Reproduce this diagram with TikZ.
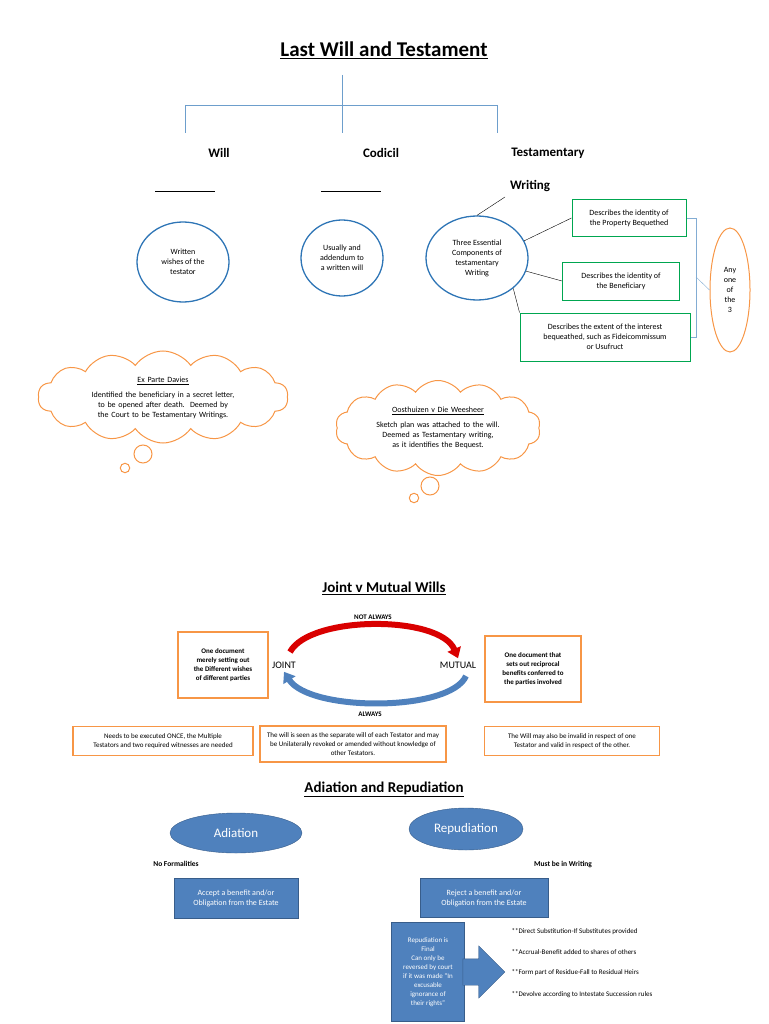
\documentclass[tikz,border=0pt]{standalone}
\usepackage{fontspec}
\setmainfont{Carlito}
\usetikzlibrary{shapes.symbols,shapes.arrows,arrows.meta,shapes.geometric}
\definecolor{tblue}{HTML}{2E75B6}
\definecolor{tgreen}{HTML}{00A650}
\definecolor{torange}{HTML}{F79646}
\definecolor{fblue}{HTML}{4F81BD}
\definecolor{dblue}{HTML}{385D8A}
\tikzset{
 small/.style={font=\fontsize{8}{10}\selectfont,align=center},
 bel/.style={draw=tblue,line width=1.3pt,ellipse,small},
 gbox/.style={draw=tgreen,line width=1pt,small,inner sep=3pt},
 obox/.style={draw=torange,line width=1.2pt,small,inner sep=3pt,font=\fontsize{7}{9}\selectfont},
 fbox/.style={fill=fblue,draw=dblue,text=white,small,inner sep=3pt},
 ttl/.style={font=\bfseries\fontsize{15}{18}\selectfont},
 cld/.style={cloud,cloud puffs=14,cloud puff arc=110,draw=torange,line width=1pt,aspect=2.6},
}
\begin{document}
\hyphenpenalty=10000
\begin{tikzpicture}[x=1pt,y=-1pt]
\useasboundingbox (0,0) rectangle (768,1024);
% title
\node[font=\bfseries\fontsize{21}{24}\selectfont] (title) at (384,50) {\underline{Last Will and Testament}};
\coordinate (t0) at (342,75); \coordinate (t1) at (342,105);
\coordinate (l1) at (185,105); \coordinate (r1) at (497,105);
\coordinate (l2) at (185,133); \coordinate (m2) at (342,133); \coordinate (r2) at (497,133);
\draw[tblue!70] (t0)--(t1) (l1)--(r1) (l1)--(l2) (t1)--(m2) (r1)--(r2);
\node[font=\bfseries\fontsize{13}{15}\selectfont] (will) at (219,153) {Will};
\node[font=\bfseries\fontsize{13}{15}\selectfont] (cod) at (381,153) {Codicil};
\node[font=\bfseries\fontsize{13}{15}\selectfont] (test) at (548,153) {Testamentary};
\node[font=\bfseries\fontsize{13}{15}\selectfont] (wri) at (530,186) {Writing};
\coordinate (u1) at (155,191); \coordinate (u2) at (215,191);
\coordinate (u3) at (321,191); \coordinate (u4) at (381,191);
\draw (u1)--(u2) (u3)--(u4);
\node[bel,minimum width=92,minimum height=80] (e1) at (183,262) {Written\\wishes of the\\testator};
\node[bel,minimum width=82,minimum height=76] (e2) at (342,258) {Usually and\\addendum to\\a written will};
\node[bel,minimum width=102,minimum height=84] (e3) at (477,258) {Three Essential\\Components of\\testamentary\\Writing};
\node[gbox,minimum width=114,minimum height=37] (g1) at (629,218) {Describes the identity of\\the Property Bequethed};
\node[gbox,minimum width=117,minimum height=38] (g2) at (621,281) {Describes the identity of\\the Beneficiary};
\node[gbox,minimum width=170,minimum height=48] (g3) at (605,337) {Describes the extent of the interest\\bequeathed, such as Fideicommissum\\or Usufruct};
\coordinate (w1) at (505,197);
\draw (w1)--(e3.north);
\draw (e3.20)--(g1.west) (e3.-15)--(g2.west) (e3.-40)--(g3.north west);
\node[draw=torange,line width=1pt,ellipse,minimum width=40,minimum height=124,small] (any) at (730,290) {Any\\one\\of\\the\\3};
\coordinate (b1) at (696,218); \coordinate (b2) at (696,337); \coordinate (bm) at (696,277);
\draw[tblue!60] (g1.east)--(b1)--(b2)--(g3.east);
\draw[tblue!60] (bm)--(any.west);
% clouds
\node[cld,minimum width=250,minimum height=92] (c1) at (163,397) {};
\node[small,text width=185] (c1t) at (163,398) {\underline{Ex Parte Davies}\\[5pt]Identified the beneficiary in a secret letter, to be opened after death.\ \ Deemed by the Court to be Testamentary Writings.};
\node[draw=torange,line width=1pt,circle,minimum size=18] (c1a) at (143,454) {};
\node[draw=torange,line width=1pt,circle,minimum size=9] (c1b) at (125,468) {};
\node[cld,minimum width=205,minimum height=95] (c2) at (438,428) {};
\node[small,text width=160] (c2t) at (438,428) {\underline{Oosthuizen v Die Weesheer}\\[5pt]Sketch plan was attached to the will.\\Deemed as Testamentary writing, as it identifies the Bequest.};
\node[draw=torange,line width=1pt,circle,minimum size=18] (c2a) at (430,486) {};
\node[draw=torange,line width=1pt,circle,minimum size=9] (c2b) at (414,498) {};
% Joint v mutual
\node[ttl] (jt) at (384,588) {\underline{Joint v Mutual Wills}};
\node[small,font=\bfseries\fontsize{7}{9}\selectfont] (na) at (373,617) {NOT ALWAYS};
\node[font=\fontsize{10}{12}\selectfont] (joint) at (284,665) {JOINT};
\node[font=\fontsize{10}{12}\selectfont] (mut) at (458,665) {MUTUAL};
\node[small,font=\bfseries\fontsize{7}{9}\selectfont] (al) at (370,714) {ALWAYS};
\coordinate (ja) at (290,652); \coordinate (mb) at (466,676);
\draw[red!85!black,line width=6pt,-{Triangle[width=14pt,length=10pt]}] (ja) .. controls (310,615) and (440,615) .. (mut.north);
\draw[fblue,line width=6pt,-{Triangle[width=14pt,length=10pt]}] (mb) .. controls (450,712) and (310,712) .. (joint.south);
\node[obox,minimum width=90,minimum height=66,font=\bfseries\fontsize{7}{9}\selectfont] (o1) at (223,665) {One document\\merely setting out\\the Different wishes\\of different parties};
\node[obox,minimum width=96,minimum height=66,font=\bfseries\fontsize{7}{9}\selectfont] (o2) at (533,669) {One document that\\sets out reciprocal\\benefits conferred to\\the parties involved};
\node[obox,minimum width=180,minimum height=29] (o3) at (163,741) {Needs to be executed ONCE, the Multiple\\Testators and two required witnesses are needed};
\node[obox,minimum width=186,minimum height=36] (o4) at (353,744) {The will is seen as the separate will of each Testator and may\\be Unilaterally revoked or amended without knowledge of\\other Testators.};
\node[obox,minimum width=175,minimum height=29] (o5) at (572,741) {The Will may also be invalid in respect of one\\Testator and valid in respect of the other.};
% Adiation
\node[ttl] (at) at (384,789) {\underline{Adiation and Repudiation}};
\node[ellipse,fill=fblue,draw=dblue,text=white,minimum width=132,minimum height=40,font=\fontsize{13}{15}\selectfont] (ad) at (236,833) {Adiation};
\node[ellipse,fill=fblue,draw=dblue,text=white,minimum width=114,minimum height=42,font=\fontsize{13}{15}\selectfont] (rep) at (466,829) {Repudiation};
\node[small,font=\bfseries\fontsize{7.5}{9}\selectfont] (nf) at (176,864) {No Formalities};
\node[small,font=\bfseries\fontsize{7.5}{9}\selectfont] (mw) at (563,864) {Must be in Writing};
\node[fbox,minimum width=124,minimum height=40] (ab) at (236,898) {Accept a benefit and/or\\Obligation from the Estate};
\node[fbox,minimum width=128,minimum height=39] (rb) at (484,898) {Reject a benefit and/or\\Obligation from the Estate};
\node[fbox,minimum width=73,minimum height=99,font=\fontsize{7}{9}\selectfont] (fin) at (428,972) {Repudiation is\\Final\\Can only be\\reversed by court\\if it was made ``In\\excusable\\ignorance of\\their rights''};
\node[single arrow,fill=fblue,draw=dblue,minimum height=42,minimum width=52,inner sep=0pt,text width=0pt,text height=26pt,single arrow head extend=13pt,anchor=west] (arr) at ([xshift=-2pt]fin.east) {};
\node[anchor=west,font=\fontsize{7}{9}\selectfont] (s1) at (508,932) {**Direct Substitution-If Substitutes provided};
\node[anchor=west,font=\fontsize{7}{9}\selectfont] (s2) at (508,952) {**Accrual-Benefit added to shares of others};
\node[anchor=west,font=\fontsize{7}{9}\selectfont] (s3) at (508,973) {**Form part of Residue-Fall to Residual Heirs};
\node[anchor=west,font=\fontsize{7}{9}\selectfont] (s4) at (508,995) {**Devolve according to Intestate Succession rules};
\end{tikzpicture}
\end{document}
